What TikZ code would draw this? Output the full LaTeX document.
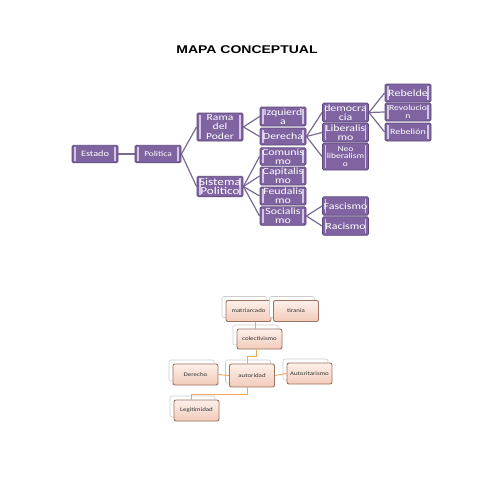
\documentclass[tikz,border=0pt]{standalone}
\usepackage{fontspec}
\newfontfamily\pfont[FakeStretch=1.25]{Carlito}
\newfontfamily\tfont[FakeStretch=1.25]{Liberation Sans}
\usetikzlibrary{backgrounds,shadows}
\definecolor{pfill}{HTML}{8064A2}
\definecolor{pdraw}{HTML}{5E4A7C}
\definecolor{pbar}{HTML}{D2C6E4}
\definecolor{pline}{HTML}{7B6A96}
\definecolor{btop}{HTML}{FDF0EA}
\definecolor{bbot}{HTML}{F2CBBA}
\definecolor{bdraw}{HTML}{9C7262}
\definecolor{bline}{HTML}{F2A65E}
\definecolor{btext}{HTML}{333333}
\newcommand\fs[2]{\fontsize{#1}{#2}\selectfont}
\begin{document}
\begin{tikzpicture}[x=1pt,y=-1pt,
  pnode/.style={rectangle, rounded corners=1.5pt, fill=pfill, draw=pdraw, line width=0.9pt,
    minimum width=46pt, minimum height=18pt, inner sep=0pt, text=white, align=center,
    font={\pfont\fs{9.5}{9}},
    path picture={
      \draw[pbar,line width=1.3pt]
        ([xshift=3pt,yshift=2pt]path picture bounding box.south west) --
        ([xshift=3pt,yshift=-2pt]path picture bounding box.north west);
      \draw[pbar,line width=1.3pt]
        ([xshift=-3pt,yshift=2pt]path picture bounding box.south east) --
        ([xshift=-3pt,yshift=-2pt]path picture bounding box.north east);}},
  pconn/.style={draw=pline, line width=1.2pt},
  bnode/.style={rectangle, rounded corners=2pt, top color=btop, bottom color=bbot,
    draw=bdraw, line width=0.9pt, minimum width=45pt, minimum height=21pt, inner sep=0pt,
    text=btext, align=center, font={\pfont\fs{5.5}{6}},
    copy shadow={shadow xshift=-4pt, shadow yshift=4pt, fill=white, draw=gray!40, line width=0.6pt}},
  bconn/.style={draw=bline, line width=0.9pt},
  title/.style={font={\tfont\bfseries\fs{11.2}{12}}, text=black}
]
\useasboundingbox (0,0) rectangle (495,495);
\begin{scope}[on background layer]
\fill[white] (0,0) rectangle (495,495);
\end{scope}

\node[title] (title) at (247,50) {MAPA CONCEPTUAL};

% top map
\node[pnode, minimum height=17.5pt, font={\pfont\fs{8.2}{9}}] (estado) at (95,154) {Estado};
\node[pnode, minimum height=17.5pt, font={\pfont\fs{7.5}{9}}] (politica) at (158,154) {Politica};
\node[pnode, minimum height=28pt, font={\pfont\fs{9.3}{9.3}}] (rama) at (220,127) {Rama\\del\\Poder};
\node[pnode, minimum height=20.5pt, font={\pfont\fs{10.5}{9.5}}] (sistema) at (220,186.5) {Sistema\\Politico};
\node[pnode, minimum height=19pt] (izq) at (283,116.5) {Izquierd\\a};
\node[pnode, minimum height=17pt] (der) at (283,136.5) {Derecha};
\node[pnode, minimum height=17.5pt] (com) at (283,156.5) {Comunis\\mo};
\node[pnode] (cap) at (283,176) {Capitalis\\mo};
\node[pnode] (feu) at (283,196) {Feudalis\\mo};
\node[pnode, minimum height=18.5pt] (soc) at (283,216) {Socialis\\mo};
\node[pnode, minimum height=19pt] (dem) at (345.5,112.5) {democra\\cia};
\node[pnode, minimum height=19pt] (lib) at (345.5,132.5) {Liberalis\\mo};
\node[pnode, minimum height=27pt, font={\pfont\fs{7.6}{7.8}}] (neo) at (345.5,156.5) {Neo\\liberalism\\o};
\node[pnode, font={\pfont\fs{9.6}{9}}] (reb) at (408,93) {Rebelde};
\node[pnode, font={\pfont\fs{7.7}{7.5}}] (rev) at (408,112) {Revolucio\\n};
\node[pnode, font={\pfont\fs{8}{9}}] (rbl) at (408,132) {Rebelión};
\node[pnode, minimum height=18.5pt] (fas) at (345.5,206) {Fascismo};
\node[pnode, minimum height=18.5pt] (rac) at (345.5,226) {Racismo};

\begin{scope}[on background layer]
\draw[pconn] (estado.east) -- (politica.west);
\draw[pconn] (politica.east) -- (rama.west);
\draw[pconn] (politica.east) -- (sistema.west);
\draw[pconn] (rama.east) -- (izq.west);
\draw[pconn] (rama.east) -- (der.west);
\draw[pconn] (sistema.east) -- (com.west);
\draw[pconn] (sistema.east) -- (cap.west);
\draw[pconn] (sistema.east) -- (feu.west);
\draw[pconn] (sistema.east) -- (soc.west);
\draw[pconn] (der.east) -- (dem.west);
\draw[pconn] (der.east) -- (lib.west);
\draw[pconn] (der.east) -- (neo.west);
\draw[pconn] (dem.east) -- (reb.west);
\draw[pconn] (dem.east) -- (rev.west);
\draw[pconn] (dem.east) -- (rbl.west);
\draw[pconn] (soc.east) -- (fas.west);
\draw[pconn] (soc.east) -- (rac.west);
\end{scope}

% bottom map
\node[bnode] (matri) at (248.5,311) {matriarcado};
\node[bnode] (tira) at (296,311) {tirania};
\node[bnode, minimum height=20pt] (cole) at (259.5,339) {colectivismo};
\node[bnode] (derecho) at (195.5,374.5) {Derecho};
\node[bnode, minimum height=23pt] (auto) at (252,375.5) {autoridad};
\node[bnode] (autor) at (309.5,373.5) {Autoritarismo};
\node[bnode] (legi) at (196.5,410.5) {Legitimidad};

\draw[bconn] ([xshift=6.5pt]matri.south) -- ([xshift=6.5pt]matri.south |- cole.north);
\draw[bconn] ([xshift=-3pt]cole.south) -- ++(0,7) -| ([xshift=-5pt]auto.north);
\draw[bconn] (derecho.east) -- (auto.west);
\draw[bconn] (auto.east) -- (autor.west);
\draw[bconn] ([xshift=-4.5pt]auto.south) -- ++(0,6.5) -| ([xshift=-5pt]legi.north);
\end{tikzpicture}
\end{document}
